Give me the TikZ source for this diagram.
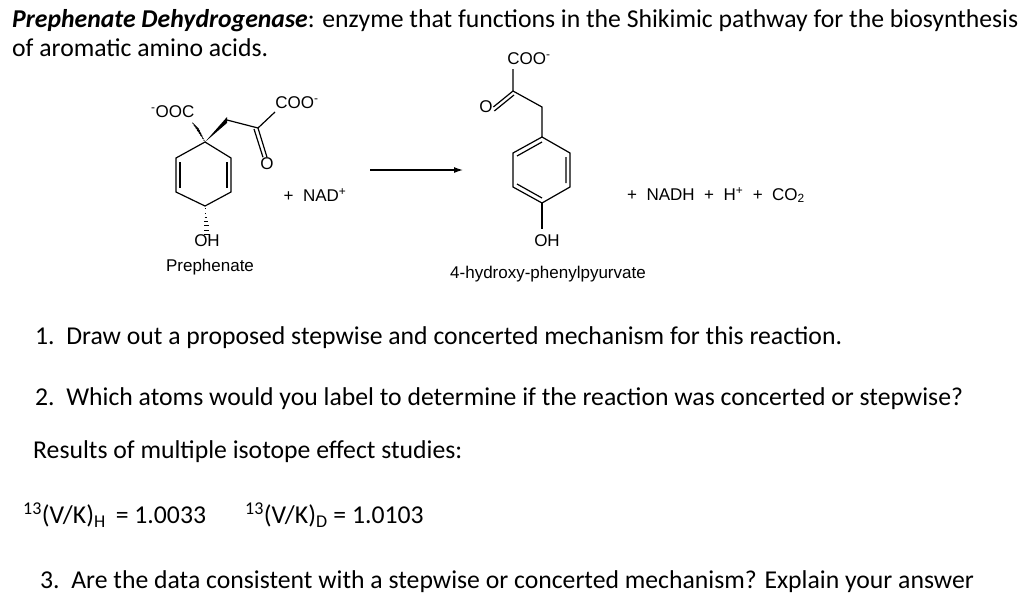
\documentclass[tikz,border=0pt]{standalone}
\usepackage{fontspec}
\usetikzlibrary{calc,arrows.meta}
\setmainfont{Carlito}
\newfontfamily\arial{Liberation Sans}
\begin{document}
\begin{tikzpicture}[x=1pt,y=-1pt,
  bd/.style={line width=1.2pt},
  ch/.style={font=\arial\fontsize{17}{19}\selectfont,inner sep=0.5pt},
  tx/.style={font=\fontsize{25.7}{30}\selectfont,anchor=west,inner sep=0pt}]
\useasboundingbox (0,0) rectangle (1024,611);
% text
\node[tx] (t1) at (12,21) {\textbf{\textit{Prephenate Dehydrogenase}}: enzyme that functions in the Shikimic pathway for the biosynthesis};
\node[tx] (t2) at (12,48) {of aromatic amino acids.};
\node[tx] (q1) at (35,338) {1.\ \ Draw out a proposed stepwise and concerted mechanism for this reaction.};
\node[tx] (q2) at (35,399) {2.\ \ Which atoms would you label to determine if the reaction was concerted or stepwise?};
\node[tx] (r) at (33,452) {Results of multiple isotope effect studies:};
\node[tx] (k1) at (23,515) {\textsuperscript{13}(V/K)\textsubscript{H} \,= 1.0033};
\node[tx] (k2) at (245,515) {\textsuperscript{13}(V/K)\textsubscript{D} = 1.0103};
\node[tx] (q3) at (40,582) {3.\ \ Are the data consistent with a stepwise or concerted mechanism? Explain your answer};
% prephenate
\coordinate (a1) at (205,142); \coordinate (a2) at (231,158); \coordinate (a3) at (231,192);
\coordinate (a4) at (205,206); \coordinate (a5) at (176,192); \coordinate (a6) at (176,158);
\draw[bd] (a1)--(a2)--(a3)--(a4)--(a5)--(a6)--cycle;
\draw[bd] (227,162)--(227,188) (180,162)--(180,188);
\node[ch] (oh1) at (207,241) {OH};
\foreach \t in {0.1,0.25,...,1}{\draw[line width=0.8pt] ($(a4)!\t!(oh1.north)+(-\t*3,0)$)--($(a4)!\t!(oh1.north)+(\t*3,0)$);}
\node[ch,anchor=east] (ooc) at (195,112) {\textsuperscript{-}OOC};
\coordinate (hc) at (195,125);
\foreach \t in {0.1,0.22,...,1}{\draw[line width=0.8pt] ($(a1)!\t!(hc)+(-\t*3.5,-\t*3.5)$)--($(a1)!\t!(hc)+(\t*3.5,\t*3.5)$);}
\coordinate (ch2) at (227,120); \coordinate (cc) at (258,128); \coordinate (cb) at (275,112);
\fill (a1)--($(ch2)+(0,-3)$)--($(ch2)+(0,3)$)--cycle;
\draw[bd] (ch2)--(cc)--(cb);
\node[ch] (coo1) at (297,103) {COO\textsuperscript{-}};
\node[ch] (o1) at (267,164) {O};
\draw[bd] (cc)--(o1.north) ($(cc)+(-4,1)$)--($(o1.north)+(-4,0)$);
\node[ch] (nad) at (315,195) {+\ \ NAD\textsuperscript{+}};
\node[ch] (pre) at (210,267) {Prephenate};
% arrow
\coordinate (ar1) at (370,170); \coordinate (ar2) at (463,170);
\draw[bd,-{Latex[length=9pt,width=6pt]}] (ar1)--(ar2);
% product
\coordinate (b1) at (542,137); \coordinate (b2) at (570,153); \coordinate (b3) at (570,187);
\coordinate (b4) at (542,203); \coordinate (b5) at (513,187); \coordinate (b6) at (513,153);
\draw[bd] (b1)--(b2)--(b3)--(b4)--(b5)--(b6)--cycle;
\draw[bd] (542,142)--(517,156) (566,157)--(566,183) (542,198)--(517,184);
\node[ch] (oh2) at (547,241) {OH};
\draw[bd] (b4)--(542,229);
\coordinate (c2) at (542,107); \coordinate (c3) at (513,91); \coordinate (c4) at (513,69);
\draw[bd] (b1)--(c2)--(c3)--(c4);
\node[ch] (o2) at (486,107) {O};
\draw[bd] (c3)--(o2.east) ($(c3)+(1,4)$)--($(o2.east)+(1,4)$);
\node[ch] (coo2) at (529,59) {COO\textsuperscript{-}};
\node[ch] (prod) at (716,195) {+\ \ NADH\ \ +\ \ H\textsuperscript{+}\ \ +\ \ CO\textsubscript{2}};
\node[ch] (hp) at (548,274) {4-hydroxy-phenylpyurvate};
\end{tikzpicture}
\end{document}
